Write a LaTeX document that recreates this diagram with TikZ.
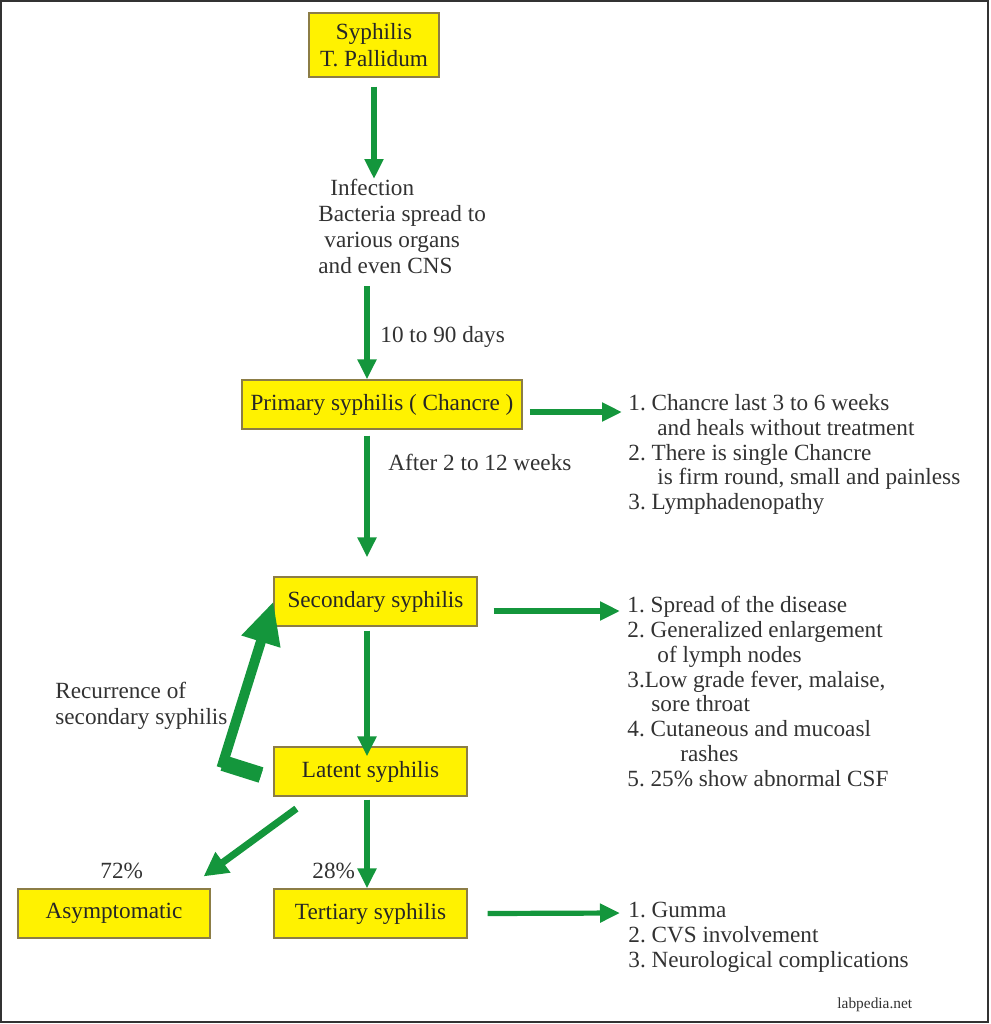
\documentclass[tikz,border=0pt]{standalone}
\usepackage{fontspec}
\setmainfont{Liberation Serif}
\usepackage{xcolor}
\usetikzlibrary{arrows.meta}
\definecolor{boxyellow}{RGB}{255,242,0}
\definecolor{boxline}{RGB}{140,125,70}
\definecolor{arrowgreen}{RGB}{20,150,60}
\definecolor{txtgray}{RGB}{50,50,50}
\frenchspacing
\tikzset{
  stage/.style={draw=boxline, fill=boxyellow, line width=0.6pt, inner sep=0pt, minimum height=24.5pt, text=black!85, font=\fontsize{11.6}{12.6}\selectfont},
  flow/.style={draw=arrowgreen, line width=2.6pt, -{Triangle[width=9pt,length=10pt]}},
  note/.style={inner sep=0pt, text=txtgray, align=left, font=\fontsize{11.6}{12.4}\selectfont},
}

\begin{document}
\begin{tikzpicture}[x=0.5pt,y=-0.5pt]
          \useasboundingbox (0,0) rectangle (991,1024);
          \draw[line width=1pt, black!80] (1,1) rectangle (988,1022);
          \node[stage, minimum width=65pt, minimum height=32pt, align=center] (syph) at (374,45) {Syphilis\\[1pt]T. Pallidum};
          \node[note, anchor=north west, font=\fontsize{11.6}{13}\selectfont] (infect) at (318,179) {\hspace*{6pt}Infection\\Bacteria spread to\\\hspace*{3pt}various organs\\and even CNS};
          \node[note, anchor=base west] (days) at (380,342) {10 to 90 days};
          \node[stage, minimum width=140pt] (prim) at (382,404.5) {Primary syphilis ( Chancre )};
          \node[note, anchor=north west] (chancre) at (628,394) {1. Chancre last 3 to 6 weeks\\\hspace*{14.5pt}and heals without treatment\\2. There is single Chancre\\\hspace*{14.5pt}is firm round, small and painless\\3. Lymphadenopathy};
          \node[note, anchor=base west] (weeks) at (388,470) {After 2 to 12 weeks};
          \node[stage, minimum width=101.5pt] (sec) at (375.5,601.5) {Secondary syphilis};
          \node[note, anchor=north west] (spread) at (627,596) {1. Spread of the disease\\2. Generalized enlargement\\\hspace*{15pt}of lymph nodes\\3.Low grade fever, malaise,\\\hspace*{12pt}sore throat\\4. Cutaneous and mucoasl\\\hspace*{26.5pt}rashes\\5. 25\% show abnormal CSF};
          \node[note, anchor=north west, font=\fontsize{11.6}{13}\selectfont] (recur) at (55,682) {Recurrence of\\secondary syphilis};
          \node[stage, minimum width=96.5pt] (lat) at (370.5,771.5) {Latent syphilis};
          \node[note, anchor=base west] (pasym) at (100,878) {72\%};
          \node[note, anchor=base west] (pter) at (312,878) {28\%};
          \node[stage, minimum width=96pt] (asym) at (114,913.5) {Asymptomatic};
          \node[stage, minimum width=96.5pt] (ter) at (370.5,913.5) {Tertiary syphilis};
          \node[note, anchor=north west] (gumma) at (628,902) {1. Gumma\\2. CVS involvement\\3. Neurological complications};
          \node[note, anchor=base west, font=\fontsize{7.7}{9}\selectfont] (site) at (837,1008) {labpedia.net};
          \coordinate (col) at (367,0);
          \coordinate (bend) at (223,763);
          \coordinate (foot) at (261,775);
          \draw[flow, shorten <=4.5pt] (syph.south) -- (syph.south |- infect.north);
          \draw[flow, shorten <=6pt] (col |- infect.south) -- (col |- prim.north);
          \draw[flow, shorten <=3pt, shorten >=9.5pt] (col |- prim.south) -- (col |- sec.north);
          \draw[flow, shorten <=2pt, shorten >=-5pt] (col |- sec.south) -- (col |- lat.north);
          \draw[flow, shorten <=1.5pt] (col |- lat.south) -- (col |- ter.north);
          \draw[flow, line width=3.5pt, -{Triangle[width=12pt,length=12pt]}] ([xshift=11.5pt,yshift=-6pt]lat.south west) -- ([xshift=-3.5pt,yshift=6pt]asym.north east);
          \draw[flow] ([xshift=3.5pt,yshift=-3.75pt]prim.east) -- ([xshift=-3pt,yshift=-9pt]chancre.north west);
          \draw[flow] ([xshift=8pt,yshift=-4.75pt]sec.east) -- ([xshift=-3.5pt,yshift=-7.5pt]spread.north west);
          \draw[flow] ([xshift=10pt]ter.east) -- ([xshift=-4pt,yshift=-5.5pt]gumma.north west);
          \draw[flow, line width=5pt, line join=miter, -{Triangle[width=19pt,length=21pt]}] (foot) -- (bend) -- (sec.west);
          \draw[arrowgreen, line width=8pt] (foot) -- (bend);
        \end{tikzpicture}
\end{document}
